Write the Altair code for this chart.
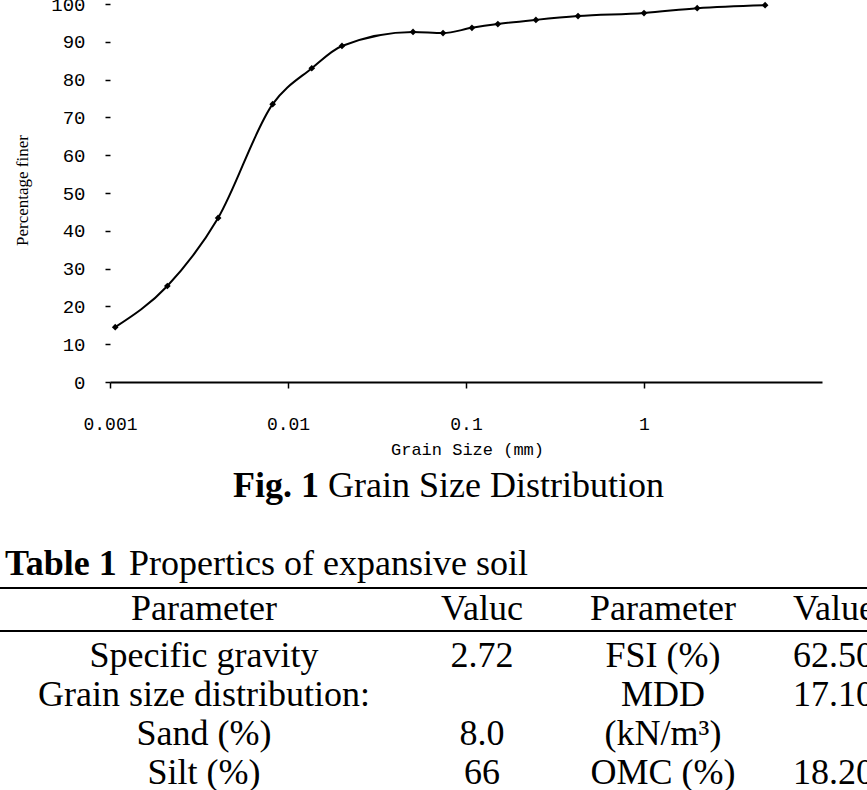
import altair as alt
import pandas as pd

# ---------------- data ----------------
grain_size_mm = [0.00107, 0.0021, 0.00405, 0.0082, 0.0136, 0.0201, 0.0504, 0.0743,
                 0.108, 0.151, 0.247, 0.426, 1.0, 1.99, 4.79]
percent_finer = [14.5, 25.4, 43.4, 73.5, 83.0, 88.9, 92.6, 92.3,
                 93.7, 94.7, 95.8, 96.8, 97.6, 98.9, 99.7]
x_tick_values = [0.001, 0.01, 0.1, 1]
y_tick_values = [0, 10, 20, 30, 40, 50, 60, 70, 80, 90, 100]

caption_bold = "Fig. 1"
caption_text = "Grain Size Distribution"
table_bold = "Table 1"
table_text = "Propertics of expansive soil"
header_row = ["Parameter", "Valuc", "Parameter", "Value"]
col_param1 = ["Specific gravity", "Grain size distribution:", "Sand (%)", "Silt (%)"]
col_value1 = ["2.72", "", "8.0", "66"]
col_param2 = ["FSI (%)", "MDD", "(kN/m³)", "OMC (%)"]
col_value2 = ["62.50", "17.10", "", "18.20"]

# ---------------- layout ----------------
TOTAL_W, TOTAL_H = 867, 790
PL, PT = 110, 4
PW, PH = 712, 378


def ax(x):
    return x - PL


def ay(y):
    return y - PT


SERIF = "Liberation Serif"
MONO = "Liberation Mono"
FS = 36

df = pd.DataFrame({"size": grain_size_mm, "finer": percent_finer})

x_axis = alt.Axis(
    values=x_tick_values, format="~g", grid=False, labelOverlap=False,
    labelFont=MONO, labelFontSize=18, labelColor="black", labelPadding=27,
    labelFlush=False,
    tickColor="black", tickSize=6, tickWidth=1.5,
    domainColor="black", domainWidth=2,
    title="Grain Size (mm)", titleFont=MONO, titleFontSize=17,
    titleFontWeight="normal", titleColor="black",
    titleX=357, titleY=67, titleAlign="center", titleBaseline="middle",
)
y_axis = alt.Axis(
    values=y_tick_values, grid=False, domain=False, labelOverlap=False,
    labelFont=MONO, labelFontSize=19, labelColor="black", labelPadding=20,
    labelFlush=False,
    tickColor="black", tickSize=5, tickWidth=1.5,
    title="Percentage finer", titleFont=SERIF, titleFontSize=17,
    titleFontWeight="normal", titleColor="black",
    titleX=-88, titleY=186, titleAngle=270, titleAlign="center",
    titleBaseline="middle",
)
x_scale = alt.Scale(type="log", domain=[0.001, 10], nice=False)
y_scale = alt.Scale(domain=[0, 100], nice=False)

base = alt.Chart(df).encode(
    x=alt.X("size:Q", scale=x_scale, axis=x_axis),
    y=alt.Y("finer:Q", scale=y_scale, axis=y_axis),
)
line = base.mark_line(color="black", strokeWidth=2, interpolate="monotone")
pts = base.mark_point(shape="diamond", filled=True, size=45, color="black", opacity=1)

layers = [line, pts]


def text_layer(txt, x_abs, y_abs, align="left", bold=False, size=FS, font=SERIF):
    d = pd.DataFrame({"t": [txt]})
    return alt.Chart(d).mark_text(
        font=font, fontSize=size, fontWeight="bold" if bold else "normal",
        color="black", align=align, baseline="alphabetic",
    ).encode(x=alt.value(ax(x_abs)), y=alt.value(ay(y_abs)), text="t:N")


def hrule(y_abs, x1=0, x2=TOTAL_W, w=2):
    d = pd.DataFrame({"r": [0]})
    return alt.Chart(d).mark_rule(color="black", strokeWidth=w).encode(
        x=alt.value(ax(x1)), x2=alt.value(ax(x2)), y=alt.value(ay(y_abs))
    )


# caption
layers.append(text_layer(caption_bold, 233, 497, bold=True))
layers.append(text_layer(caption_text, 328, 497))

# table title
layers.append(text_layer(table_bold, 5, 575, bold=True))
layers.append(text_layer(table_text, 129, 575))
layers.append(hrule(588))

# table header
col_x = [204, 482, 663, 793]
col_align = ["center", "center", "center", "left"]
for c, h in enumerate(header_row):
    layers.append(text_layer(h, col_x[c], 620, align=col_align[c]))
layers.append(hrule(631))

row_y = [667, 706, 745, 784]
columns = [col_param1, col_value1, col_param2, col_value2]
for c, col in enumerate(columns):
    for r, txt in enumerate(col):
        if txt:
            layers.append(text_layer(txt, col_x[c], row_y[r], align=col_align[c]))

chart = alt.layer(*layers).properties(
    width=PW, height=PH,
    autosize=alt.AutoSizeParams(type="none"),
    padding={"left": PL, "top": PT, "right": TOTAL_W - PL - PW, "bottom": TOTAL_H - PT - PH},
    background="white",
).configure_view(strokeWidth=0)

chart.save("out.html", embed_options={"renderer": "svg", "actions": False})
